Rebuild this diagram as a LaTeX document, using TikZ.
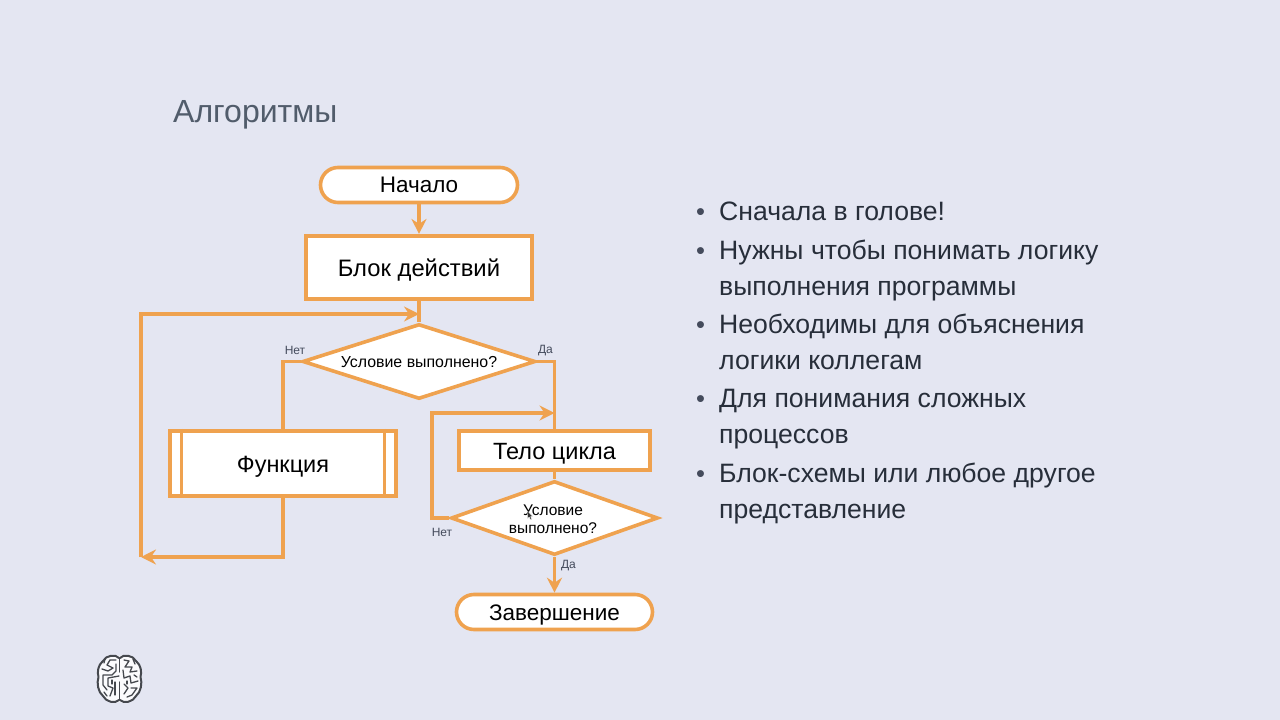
\documentclass[tikz,border=0pt]{standalone}
\usepackage{fontspec}
\setmainfont{Liberation Sans}
\usetikzlibrary{arrows.meta,shapes.geometric,shapes.misc,calc}
\definecolor{bgc}{HTML}{E4E6F2}
\definecolor{orangec}{HTML}{EFA24F}
\definecolor{titlec}{HTML}{515C6B}
\definecolor{bodyc}{HTML}{272E3A}
\definecolor{labelc}{HTML}{444B5C}
\definecolor{brainc}{HTML}{45484E}
\newcommand{\fs}[1]{\fontsize{#1}{#1}\selectfont}
\tikzset{
  x=1pt,y=-1pt,
  box/.style={draw=orangec,line width=3.6pt,fill=white,inner sep=0pt,text=black,align=center},
  procbox/.style={box,rectangle},
  termbox/.style={box,rounded rectangle},
  decbox/.style={box,diamond,aspect=3.1},
  link/.style={draw=orangec,line width=3.2pt},
  linkarrow/.style={link,-{Stealth[length=15pt,width=15pt,inset=5pt]}},
  tinylabel/.style={text=labelc,inner sep=0pt,font=\fs{12}},
  bodyline/.style={text=bodyc,inner sep=0pt,anchor=base west,font=\fs{26.6}},
  bulletmark/.style={text=labelc,inner sep=0pt,anchor=base west,font=\fs{25.5}},
  brainline/.style={draw=brainc,line width=1.3pt,line cap=round,line join=round},
}
\begin{document}
\begin{tikzpicture}
\useasboundingbox (0,0) rectangle (1280,720);
\fill[bgc] (0,0) rectangle (1280,720);
\node[text=titlec,inner sep=0pt,anchor=base west,font=\fs{32}] (title) at (173,122) {Алгоритмы};

\node[termbox,minimum width=197pt,minimum height=35pt,font=\fs{22.5},text height=15pt,text depth=0pt] (start) at (419,185) {Начало};
\node[procbox,minimum width=225.5pt,minimum height=63.5pt,font=\fs{23.8},text height=18pt,text depth=0pt] (action) at (419,267.5) {Блок действий};
\node[decbox,minimum width=233pt,minimum height=75pt,inner sep=0pt] (cond) at (419,361.5) {};
\node[text=black,inner sep=0pt,font=\fs{15.9}] (condtext) at (419,362.5) {Условие выполнено?};
\node[procbox,minimum width=226.5pt,minimum height=65.5pt,font=\fs{23.5},text height=17pt,text depth=0pt] (func) at (283,463.5) {Функция};
\node[procbox,minimum width=190.5pt,minimum height=39.5pt,font=\fs{23.5},text height=18pt,text depth=0pt] (body) at (554.5,450.5) {Тело цикла};
\node[decbox,minimum width=207pt,minimum height=74pt,inner sep=0pt] (cond2) at (554.5,518) {};
\node[text=black,inner sep=0pt,font=\fs{15.5},align=center] (cond2text) at (553,519.5) {Условие\\[2.5pt]выполнено?};
\node[termbox,minimum width=196pt,minimum height=35pt,font=\fs{22.5},text height=16pt,text depth=0pt] (finish) at (554.5,612) {Завершение};

% double side bars of the function box
\coordinate (fl) at (181,463);
\coordinate (fr) at (384,463);
\draw[link,line width=3pt] (fl |- func.north) -- (fl |- func.south);
\draw[link,line width=3pt] (fr |- func.north) -- (fr |- func.south);

% connectors
\draw[linkarrow] (start.south) -- (action.north);
\coordinate (entry) at (419,314);
\coordinate (loopcorner) at (141,314);
\coordinate (loopbottom) at (141,557);
\draw[link] (action.south) -- (cond.north);
\draw[linkarrow] (loopbottom) -- (loopcorner) -- (entry);
\draw[link] (cond.west) -| (func.north);
\draw[linkarrow] (func.south) |- (loopbottom);
\draw[link] (cond.east) -| (body.north);
\coordinate (entry2) at (554.5,413);
\coordinate (loop2corner) at (432,413);
\draw[linkarrow] (cond2.west) -| (loop2corner) -- (entry2);
\draw[link] (body.south) -- (cond2.north);
\draw[linkarrow] (cond2.south) -- (finish.north);

% small labels
\node[tinylabel] (lno) at (295,350.5) {Нет};
\node[tinylabel] (lyes) at (545.5,351) {Да};
\node[tinylabel] (lno2) at (442,532.5) {Нет};
\node[tinylabel] (lyes2) at (568.5,566) {Да};

% mouse pointer
\fill[black!80,draw=white,line width=0.3pt] (527.5,511) -- (527.5,518.5) -- (529.3,517) -- (530.5,519.8) -- (531.8,519.2) -- (530.6,516.6) -- (532.6,516.2) -- cycle;

% bullet list
\foreach \name/\yy in {a/220,b/259,c/333,d/407,e/482}{
  \node[bulletmark] (b\name) at (696,\yy) {•};
}
\node[bodyline] (t1) at (719,220) {Сначала в голове!};
\node[bodyline] (t2) at (719,259) {Нужны чтобы понимать логику};
\node[bodyline] (t3) at (719,295) {выполнения программы};
\node[bodyline] (t4) at (719,333) {Необходимы для объяснения};
\node[bodyline] (t5) at (719,369) {логики коллегам};
\node[bodyline] (t6) at (719,407) {Для понимания сложных};
\node[bodyline] (t7) at (719,443) {процессов};
\node[bodyline] (t8) at (719,482) {Блок-схемы или любое другое};
\node[bodyline] (t9) at (719,518) {представление};

% brain logo
\fill[white!85!bgc] (119.5,656) .. controls (104,652) and (97,668) .. (98.5,680) .. controls (98,695) and (108,706) .. (119.5,702) .. controls (131,706) and (141,695) .. (140.5,680) .. controls (142,668) and (135,652) .. (119.5,656) -- cycle;
\draw[brainline,line width=2pt] (119,658) .. controls (116,654) and (106,655) .. (103,661) .. controls (98,665) and (97,672) .. (98.5,677) .. controls (96.5,683) and (98,692) .. (103,696) .. controls (106,702) and (115,704) .. (119,700);
\draw[brainline,line width=2pt] (120,658) .. controls (123,654) and (133,655) .. (136,661) .. controls (141,665) and (142,672) .. (140.5,677) .. controls (142.5,683) and (141,692) .. (136,696) .. controls (133,702) and (124,704) .. (120,700);
\draw[brainline] (119.5,658) -- (119.5,672);
\draw[brainline] (119.5,682) -- (119.5,700);
\draw[brainline] (116,660) -- (110,660) -- (107,665) -- (113,668) -- (108,671) -- (102,669);
\draw[brainline] (105,659) -- (104,663);
\draw[brainline] (116,664) -- (116,671) -- (112,675) -- (103,675) -- (103,685) -- (107,690);
\draw[brainline] (119,676) -- (108,678) -- (108,686) -- (113,688) -- (110,696);
\draw[brainline] (115,682) -- (115,695);
\draw[brainline] (112,680) -- (112,684);
\draw[brainline] (104,692) -- (107,696);
\draw[brainline] (124,660) -- (129,661) -- (125,667) -- (132,667) -- (130,672) -- (137,671);
\draw[brainline] (133,659) -- (135,664);
\draw[brainline] (123,670) -- (124,678) -- (130,676) -- (131,683) -- (138,681);
\draw[brainline] (134,675) -- (137,677);
\draw[brainline] (124,684) -- (128,688) -- (124,694);
\draw[brainline] (131,688) -- (137,688) -- (132,695) -- (127,697);
\draw[brainline] (127,681) -- (127,684);
\end{tikzpicture}
\end{document}
